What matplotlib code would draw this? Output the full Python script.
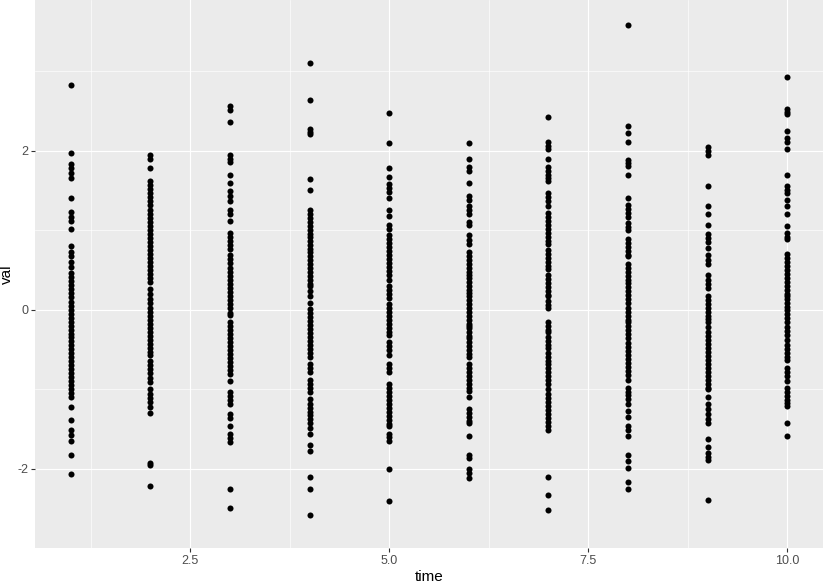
import matplotlib
matplotlib.use("Agg")
import matplotlib.pyplot as plt

plt.rcParams['font.family'] = ['Liberation Sans', 'DejaVu Sans']

# values, one list per time step
times = [1, 2, 3, 4, 5, 6, 7, 8, 9, 10]

val1 = [2.83, 1.97, 1.84, 1.78, 1.72, 1.66, 1.41, 1.23, 1.17, 1.12, 1.01, 0.80, 0.73, 0.67, 0.60, 0.54,
        0.46, 0.41, 0.36, 0.31, 0.26, 0.21, 0.16, 0.10, 0.05, 0.00, -0.05, -0.10, -0.15, -0.20, -0.25,
        -0.30, -0.35, -0.40, -0.45, -0.50, -0.55, -0.60, -0.65, -0.70, -0.75, -0.80, -0.85, -0.90,
        -0.95, -1.00, -1.05, -1.10, -1.22, -1.39, -1.52, -1.58, -1.65, -1.83, -2.07]
val2 = [1.95, 1.90, 1.78, 1.62, 1.57, 1.52, 1.47, 1.42, 1.37, 1.32, 1.25, 1.20, 1.15, 1.10, 1.05, 1.00,
        0.95, 0.90, 0.85, 0.80, 0.75, 0.70, 0.65, 0.60, 0.55, 0.50, 0.45, 0.40, 0.35, 0.26, 0.20, 0.14,
        0.09, 0.02, -0.03, -0.08, -0.13, -0.18, -0.23, -0.28, -0.33, -0.38, -0.43, -0.48, -0.53, -0.57,
        -0.65, -0.70, -0.75, -0.80, -0.86, -0.91, -1.00, -1.06, -1.11, -1.16, -1.22, -1.30, -1.93,
        -1.96, -2.22]
val3 = [2.57, 2.52, 2.36, 1.95, 1.90, 1.86, 1.70, 1.60, 1.49, 1.43, 1.37, 1.26, 1.20, 1.12, 0.97, 0.92,
        0.87, 0.82, 0.77, 0.69, 0.64, 0.59, 0.53, 0.48, 0.42, 0.37, 0.32, 0.27, 0.22, 0.17, 0.12, 0.07,
        0.02, -0.04, -0.07, -0.16, -0.21, -0.26, -0.31, -0.36, -0.41, -0.46, -0.51, -0.56, -0.61, -0.66,
        -0.71, -0.76, -0.81, -0.90, -1.04, -1.09, -1.14, -1.19, -1.31, -1.36, -1.47, -1.56, -1.62,
        -1.66, -2.26, -2.50]
val4 = [3.11, 2.64, 2.27, 2.24, 2.21, 1.65, 1.51, 1.25, 1.20, 1.15, 1.10, 1.05, 1.00, 0.95, 0.91, 0.87,
        0.82, 0.77, 0.72, 0.67, 0.62, 0.57, 0.52, 0.47, 0.42, 0.37, 0.32, 0.30, 0.23, 0.17, 0.09, 0.01,
        -0.04, -0.09, -0.14, -0.19, -0.24, -0.29, -0.34, -0.39, -0.44, -0.49, -0.54, -0.60, -0.69,
        -0.74, -0.78, -0.88, -0.94, -0.99, -1.04, -1.12, -1.19, -1.24, -1.29, -1.33, -1.37, -1.43,
        -1.49, -1.56, -1.70, -1.78, -2.11, -2.26, -2.58]
val5 = [2.47, 2.10, 1.78, 1.67, 1.58, 1.53, 1.48, 1.40, 1.26, 1.18, 1.07, 1.02, 0.94, 0.89, 0.84, 0.79,
        0.74, 0.69, 0.64, 0.59, 0.54, 0.49, 0.44, 0.38, 0.30, 0.25, 0.20, 0.15, 0.07, 0.02, -0.03, -0.08,
        -0.13, -0.18, -0.23, -0.28, -0.32, -0.41, -0.46, -0.51, -0.57, -0.69, -0.74, -0.79, -0.94,
        -0.99, -1.04, -1.09, -1.14, -1.19, -1.24, -1.29, -1.34, -1.39, -1.44, -1.47, -1.56, -1.60,
        -1.65, -2.00, -2.41]
val6 = [2.10, 1.90, 1.79, 1.74, 1.59, 1.43, 1.38, 1.31, 1.26, 1.20, 1.10, 1.06, 0.94, 0.88, 0.83, 0.73,
        0.68, 0.63, 0.58, 0.53, 0.48, 0.44, 0.40, 0.35, 0.30, 0.25, 0.21, 0.17, 0.12, 0.07, 0.02, -0.03,
        -0.08, -0.13, -0.18, -0.20, -0.23, -0.28, -0.33, -0.36, -0.41, -0.46, -0.51, -0.56, -0.60,
        -0.69, -0.74, -0.79, -0.84, -0.89, -0.94, -0.99, -1.02, -1.10, -1.25, -1.30, -1.35, -1.40,
        -1.43, -1.59, -1.83, -1.87, -2.01, -2.05, -2.12]
val7 = [2.43, 2.11, 2.06, 2.02, 1.90, 1.80, 1.75, 1.70, 1.66, 1.62, 1.47, 1.42, 1.37, 1.31, 1.22, 1.17,
        1.12, 1.07, 1.02, 0.97, 0.92, 0.87, 0.83, 0.75, 0.70, 0.65, 0.60, 0.55, 0.51, 0.44, 0.39, 0.34,
        0.29, 0.24, 0.19, 0.17, 0.11, 0.06, 0.02, -0.15, -0.20, -0.25, -0.28, -0.35, -0.40, -0.45,
        -0.48, -0.54, -0.59, -0.64, -0.69, -0.74, -0.79, -0.84, -0.89, -0.94, -1.00, -1.06, -1.11,
        -1.16, -1.21, -1.26, -1.31, -1.36, -1.41, -1.46, -1.52, -2.11, -2.33, -2.52]
val8 = [3.59, 2.31, 2.22, 2.11, 1.89, 1.85, 1.81, 1.70, 1.41, 1.32, 1.27, 1.22, 1.17, 1.09, 1.04, 1.00,
        0.89, 0.84, 0.79, 0.74, 0.69, 0.67, 0.58, 0.53, 0.48, 0.43, 0.38, 0.33, 0.28, 0.23, 0.18, 0.13,
        0.09, 0.02, -0.03, -0.08, -0.13, -0.16, -0.20, -0.25, -0.30, -0.36, -0.42, -0.47, -0.52, -0.57,
        -0.62, -0.67, -0.72, -0.77, -0.82, -0.88, -0.98, -1.03, -1.08, -1.13, -1.19, -1.27, -1.35,
        -1.46, -1.52, -1.59, -1.83, -1.91, -1.99, -2.17, -2.26]
val9 = [2.05, 2.00, 1.95, 1.56, 1.31, 1.20, 1.07, 0.95, 0.90, 0.85, 0.78, 0.69, 0.63, 0.57, 0.44, 0.38,
        0.32, 0.27, 0.17, 0.12, 0.07, 0.02, -0.03, -0.08, -0.12, -0.16, -0.22, -0.28, -0.33, -0.38,
        -0.43, -0.48, -0.53, -0.58, -0.63, -0.68, -0.73, -0.78, -0.83, -0.88, -0.93, -0.98, -1.00,
        -1.10, -1.19, -1.25, -1.31, -1.37, -1.43, -1.63, -1.73, -1.80, -1.85, -1.89, -2.40]
val10 = [2.93, 2.53, 2.49, 2.46, 2.25, 2.16, 2.11, 2.02, 1.70, 1.56, 1.51, 1.47, 1.38, 1.31, 1.20, 1.05,
         0.96, 0.92, 0.89, 0.70, 0.65, 0.60, 0.55, 0.50, 0.45, 0.40, 0.35, 0.30, 0.25, 0.20, 0.17, 0.14,
         0.09, 0.04, -0.01, -0.06, -0.11, -0.16, -0.22, -0.27, -0.32, -0.38, -0.44, -0.49, -0.54,
         -0.59, -0.63, -0.73, -0.78, -0.83, -0.90, -0.98, -1.04, -1.09, -1.14, -1.18, -1.21, -1.43,
         -1.59]

all_vals = [val1, val2, val3, val4, val5, val6, val7, val8, val9, val10]

x_ticks = [2.5, 5.0, 7.5, 10.0]
x_labels = ['2.5', '5.0', '7.5', '10.0']
y_ticks = [-2, 0, 2]
y_labels = ['-2', '0', '2']

fig = plt.figure(figsize=(8.23, 5.85), dpi=100)
ax = fig.add_axes([35 / 823, 37 / 585, 788 / 823, 548 / 585])
ax.set_facecolor('#EBEBEB')

xs = []
ys = []
for t, v in zip(times, all_vals):
    for y in v:
        xs.append(t)
        ys.append(y)
ax.scatter(xs, ys, s=19, color='black', linewidths=0, zorder=3)

# ggplot-like expansion (5% each side)
ymin = min(ys)
ymax = max(ys)
pad = (ymax - ymin) * 0.05
ax.set_ylim(ymin - pad, ymax + pad)
ax.set_xlim(1 - 0.45, 10 + 0.45)

ax.set_xticks(x_ticks)
ax.set_xticklabels(x_labels)
ax.set_yticks(y_ticks)
ax.set_yticklabels(y_labels)
ax.set_xticks([1.25, 3.75, 6.25, 8.75], minor=True)
ax.set_yticks([-3, -1, 1, 3], minor=True)

ax.grid(which='major', color='white', linewidth=0.85, zorder=0)
ax.grid(which='minor', color='white', linewidth=0.45, zorder=0)
ax.set_axisbelow(True)

for sp in ax.spines.values():
    sp.set_visible(False)

ax.tick_params(which='major', length=3, width=0.8, color='#333333', labelcolor='#4D4D4D',
               labelsize=9, pad=2)
ax.tick_params(which='minor', length=0)

ax.set_xlabel('time', fontsize=11, color='black', labelpad=2)
ax.set_ylabel('val', fontsize=11, color='black', va='center')
ax.yaxis.set_label_coords(-0.035, 0.5)

fig.savefig('out.png', dpi=100)
